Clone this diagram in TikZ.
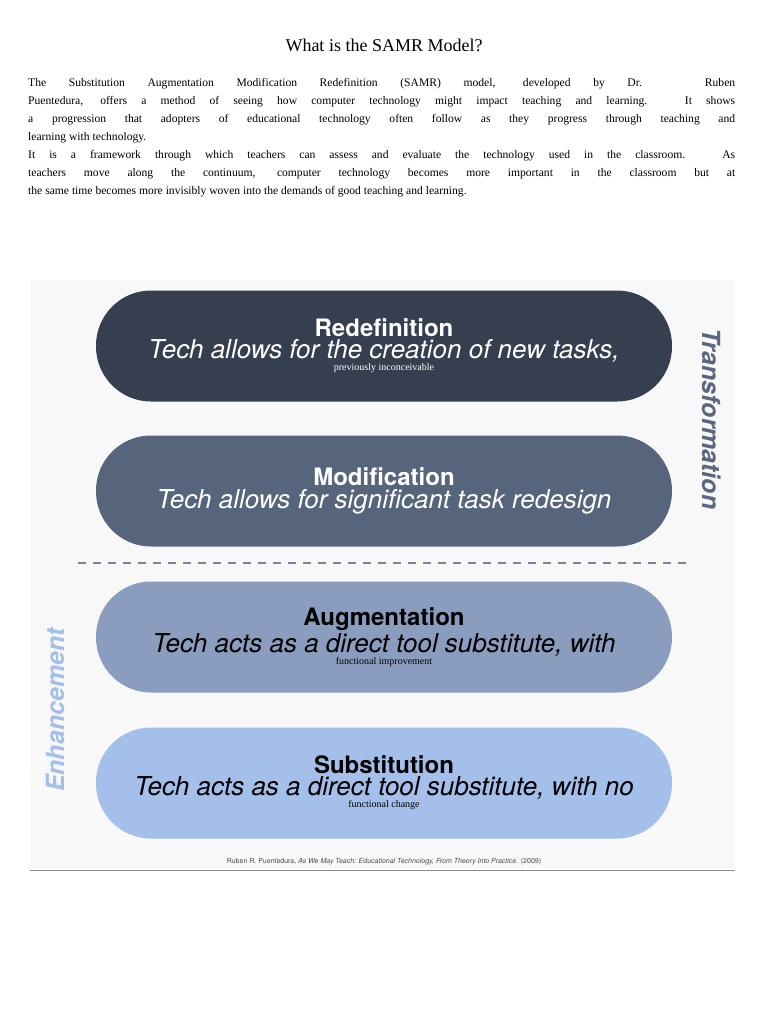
\documentclass[tikz,border=0pt]{standalone}
\usepackage{fontspec}
\setmainfont{Liberation Serif}
\newfontfamily\hel{TeX Gyre Heros}
\newcommand\pttl{\hel\bfseries\upshape\fontsize{24}{28}\selectfont}
\newcommand\psub{\hel\mdseries\itshape\fontsize{26}{33}\selectfont}
\definecolor{cR}{HTML}{363F4F}
\definecolor{cM}{HTML}{56657C}
\definecolor{cA}{HTML}{8A9DBE}
\definecolor{cS}{HTML}{A4BFE9}
\definecolor{cT}{HTML}{5A6780}
\definecolor{bgc}{HTML}{F8F8F8}
\begin{document}
\begin{tikzpicture}[x=1pt,y=-1pt,
  pill/.style={rounded corners=55pt,minimum width=576pt,minimum height=111pt,inner sep=0pt,align=center,text=white},
  side/.style={font=\hel\bfseries\itshape\fontsize{25}{28}\selectfont}]
\useasboundingbox (0,0) rectangle (768,1024);
\fill[white] (0,0) rectangle (768,1024);
\fill[bgc] (30,280) rectangle (735,868);
\node[font=\fontsize{18}{20}\selectfont] (title) at (384,45) {What is the SAMR Model?};
\node[anchor=north west,text width=707pt,align=justify,inner sep=0pt,font=\fontsize{11.6}{18}\selectfont] (body) at (28,78)
{The Substitution Augmentation Modification Redefinition (SAMR) model, developed by Dr. Ruben\linebreak Puentedura, offers a method of seeing how computer technology might impact teaching and learning. It shows\linebreak a progression that adopters of educational technology often follow as they progress through teaching and\linebreak learning with technology.\par It is a framework through which teachers can assess and evaluate the technology used in the classroom. As\linebreak teachers move along the continuum, computer technology becomes more important in the classroom but at\linebreak the same time becomes more invisibly woven into the demands of good teaching and learning.};
\node[pill,fill=cR] (red) at (384,346) {\pttl Redefinition\\[2pt]\psub Tech allows for the creation of new tasks,\\ previously inconceivable};
\node[pill,fill=cM] (mod) at (384,491) {\pttl Modification\\[2pt]\psub Tech allows for significant task redesign};
\node[pill,fill=cA,text=black] (aug) at (384,637) {\pttl Augmentation\\[2pt]\psub Tech acts as a direct tool substitute, with\\ functional improvement};
\node[pill,fill=cS,text=black] (sub) at (384,783) {\pttl Substitution\\[2pt]\psub Tech acts as a direct tool substitute, with no\\ functional change};
\coordinate (dl) at (78,563); \coordinate (dr) at (690,563);
\draw[cT!80,line width=2pt,dash pattern=on 8pt off 7pt] (dl) -- (dr);
\node[side,text=cT,rotate=-90] (tr) at (712,419) {Transformation};
\node[side,text=cS,rotate=90] (en) at (55,710) {Enhancement};
\node[font=\hel\fontsize{7}{8}\selectfont,text=black!70] (cit) at (384,862) {Ruben R. Puentedura, \itshape As We May Teach: Educational Technology, From Theory Into Practice. \upshape (2009)};
\coordinate (la) at (30,870); \coordinate (lb) at (735,870);
\draw[black!45,line width=0.8pt] (la) -- (lb);
\end{tikzpicture}
\end{document}
